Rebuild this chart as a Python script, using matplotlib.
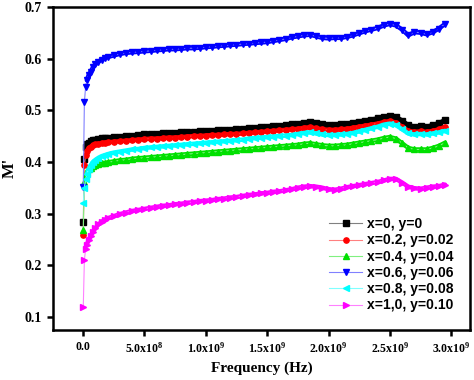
import matplotlib
matplotlib.use("Agg")
import matplotlib.pyplot as plt
import numpy as np

# frequency in units of 1e8 Hz
freq = [0.01, 0.1, 0.2, 0.3, 0.45, 0.6, 0.8, 1.0, 1.25, 1.5, 1.75, 2.0,
        2.5, 3.0, 3.5, 4.0, 4.5, 5.0, 5.5, 6.0, 6.5, 7.0, 7.5, 8.0, 8.5, 9.0, 9.5,
        10.0, 10.5, 11.0, 11.5, 12.0, 12.5, 13.0, 13.5, 14.0, 14.5, 15.0, 15.5,
        16.0, 16.5, 17.0, 17.5, 18.0, 18.5, 19.0, 19.5, 20.0, 20.5, 21.0, 21.5,
        22.0, 22.5, 23.0, 23.5, 24.0, 24.5, 25.0, 25.5, 26.0, 26.5, 27.0, 27.5,
        28.0, 28.5, 29.0, 29.5]

m_x00 = [0.283, 0.406, 0.428, 0.434, 0.437, 0.440, 0.442, 0.443, 0.445, 0.446, 0.447, 0.447,
         0.448, 0.449, 0.450, 0.451, 0.452, 0.453, 0.453, 0.454, 0.455, 0.455, 0.456, 0.457, 0.457, 0.458, 0.459,
         0.460, 0.460, 0.461, 0.462, 0.462, 0.463, 0.464, 0.465, 0.466, 0.467, 0.468, 0.469,
         0.470, 0.471, 0.473, 0.474, 0.476, 0.477, 0.475, 0.473, 0.472, 0.472, 0.473, 0.474,
         0.476, 0.478, 0.480, 0.482, 0.484, 0.487, 0.489, 0.487, 0.480, 0.471, 0.468, 0.469,
         0.468, 0.471, 0.475, 0.481]

m_x02 = [0.258, 0.394, 0.414, 0.421, 0.426, 0.429, 0.432, 0.434, 0.435, 0.436, 0.437, 0.438,
         0.439, 0.440, 0.441, 0.442, 0.443, 0.444, 0.445, 0.445, 0.446, 0.447, 0.447, 0.448, 0.449, 0.450, 0.450,
         0.451, 0.452, 0.452, 0.453, 0.454, 0.454, 0.455, 0.456, 0.457, 0.458, 0.459, 0.460,
         0.461, 0.462, 0.463, 0.464, 0.466, 0.467, 0.465, 0.463, 0.462, 0.462, 0.463, 0.464,
         0.466, 0.468, 0.470, 0.472, 0.474, 0.477, 0.479, 0.476, 0.468, 0.460, 0.458, 0.459,
         0.458, 0.460, 0.463, 0.468]

m_x04 = [0.269, 0.362, 0.374, 0.380, 0.386, 0.389, 0.392, 0.394, 0.396, 0.397, 0.398, 0.399,
         0.401, 0.403, 0.404, 0.406, 0.407, 0.408, 0.409, 0.410, 0.411, 0.412, 0.413, 0.414, 0.415, 0.416, 0.417,
         0.418, 0.419, 0.420, 0.421, 0.422, 0.423, 0.424, 0.425, 0.426, 0.427, 0.428, 0.429,
         0.430, 0.431, 0.432, 0.433, 0.435, 0.436, 0.434, 0.432, 0.431, 0.431, 0.432, 0.433,
         0.435, 0.437, 0.439, 0.441, 0.443, 0.446, 0.448, 0.445, 0.436, 0.427, 0.424, 0.424,
         0.424, 0.427, 0.431, 0.437]

m_x06 = [0.352, 0.515, 0.545, 0.558, 0.568, 0.574, 0.583, 0.589, 0.594, 0.598, 0.601, 0.603,
         0.606, 0.609, 0.611, 0.612, 0.613, 0.614, 0.615, 0.616, 0.617, 0.618, 0.618, 0.619, 0.620, 0.620, 0.621,
         0.622, 0.623, 0.624, 0.625, 0.626, 0.627, 0.628, 0.629, 0.630, 0.631, 0.632, 0.634,
         0.636, 0.638, 0.641, 0.643, 0.645, 0.646, 0.643, 0.640, 0.639, 0.640, 0.640, 0.642,
         0.645, 0.649, 0.653, 0.656, 0.659, 0.664, 0.667, 0.664, 0.656, 0.645, 0.651, 0.650,
         0.647, 0.651, 0.658, 0.667]

m_x08 = [0.321, 0.350, 0.366, 0.376, 0.386, 0.393, 0.400, 0.404, 0.408, 0.411, 0.413, 0.415,
         0.418, 0.420, 0.422, 0.424, 0.425, 0.427, 0.428, 0.429, 0.430, 0.431, 0.432, 0.433, 0.434, 0.435, 0.436,
         0.437, 0.438, 0.439, 0.440, 0.441, 0.442, 0.443, 0.445, 0.446, 0.447, 0.448, 0.449,
         0.450, 0.451, 0.452, 0.454, 0.456, 0.457, 0.455, 0.453, 0.452, 0.452, 0.453, 0.454,
         0.456, 0.459, 0.462, 0.465, 0.468, 0.472, 0.474, 0.471, 0.463, 0.455, 0.453, 0.454,
         0.453, 0.455, 0.457, 0.460]

m_x10 = [0.119, 0.210, 0.231, 0.240, 0.249, 0.256, 0.265, 0.272, 0.279, 0.284, 0.288, 0.291,
         0.295, 0.299, 0.302, 0.305, 0.307, 0.309, 0.311, 0.313, 0.315, 0.316, 0.318, 0.319, 0.321, 0.322, 0.324,
         0.325, 0.326, 0.328, 0.329, 0.331, 0.332, 0.334, 0.336, 0.337, 0.339, 0.340, 0.342,
         0.343, 0.345, 0.347, 0.350, 0.352, 0.353, 0.352, 0.350, 0.347, 0.346, 0.348, 0.351,
         0.353, 0.355, 0.357, 0.359, 0.361, 0.364, 0.367, 0.367, 0.360, 0.352, 0.349, 0.348,
         0.350, 0.352, 0.353, 0.356]

series = [m_x00, m_x02, m_x04, m_x06, m_x08, m_x10]
labels = ["x=0, y=0", "x=0.2, y=0.02", "x=0.4, y=0.04",
          "x=0.6, y=0.06", "x=0.8, y=0.08", "x=1,0, y=0.10"]
xtick_vals = [0, 5e8, 1e9, 1.5e9, 2e9, 2.5e9, 3e9]
xtick_labels = ["0.0", "5.0x10$^8$", "1.0x10$^9$", "1.5x10$^9$",
                "2.0x10$^9$", "2.5x10$^9$", "3.0x10$^9$"]

colors = ["#000000", "#ff0000", "#00e000", "#0000ff", "#00ffff", "#ff00ff"]
line_colors = ["#808080", "#ff8080", "#80f080", "#8080ff", "#80ffff", "#ff80ff"]
markers = ["s", "o", "^", "v", "<", ">"]

plt.rcParams['mathtext.default'] = 'regular'

fig = plt.figure(figsize=(4.74, 3.8), dpi=100)
fig.set_facecolor('white')
ax = fig.add_axes([0.112, 0.132, 0.880, 0.850])

f_hz = np.array(freq) * 1e8
for vals, lab, c, lc, mk in zip(series, labels, colors, line_colors, markers):
    # dense marker band after the steep start
    ax.plot(f_hz[3:], vals[3:], color=c, lw=3.2, solid_capstyle='round')
    ax.plot(f_hz, vals, color=lc, lw=0.8, marker=mk, ms=3.8,
            mfc=c, mec=c, label=lab)

ax.set_xlim(-2.45e8, 3.155e9)
ax.set_ylim(0.075, 0.7)
ax.set_yticks([0.1, 0.2, 0.3, 0.4, 0.5, 0.6, 0.7])
ax.set_xticks(xtick_vals)
ax.set_xticklabels(xtick_labels)

for s in ax.spines.values():
    s.set_linewidth(1.8)
ax.tick_params(direction='out', length=4, width=1.8, pad=4)
for t in ax.get_yticklabels():
    t.set_fontfamily('Liberation Serif')
    t.set_fontweight('bold')
    t.set_fontsize(10)
for t in ax.get_xticklabels():
    t.set_fontfamily('Liberation Serif')
    t.set_fontweight('bold')
    t.set_fontsize(8.5)

ax.set_xlabel('Frequency (Hz)', family='Liberation Serif', fontweight='bold',
              fontsize=11, labelpad=4)
ax.set_ylabel("M'", family='Liberation Serif', fontweight='bold',
              fontsize=12, labelpad=5)

leg = ax.legend(loc='upper left', bbox_to_anchor=(0.645, 0.37), frameon=False,
                numpoints=1, handlelength=2.4, handletextpad=0.35,
                labelspacing=0.16, borderpad=0,
                prop={'family': 'Liberation Sans', 'weight': 'bold', 'size': 10})

fig.savefig('out.png', dpi=100)
